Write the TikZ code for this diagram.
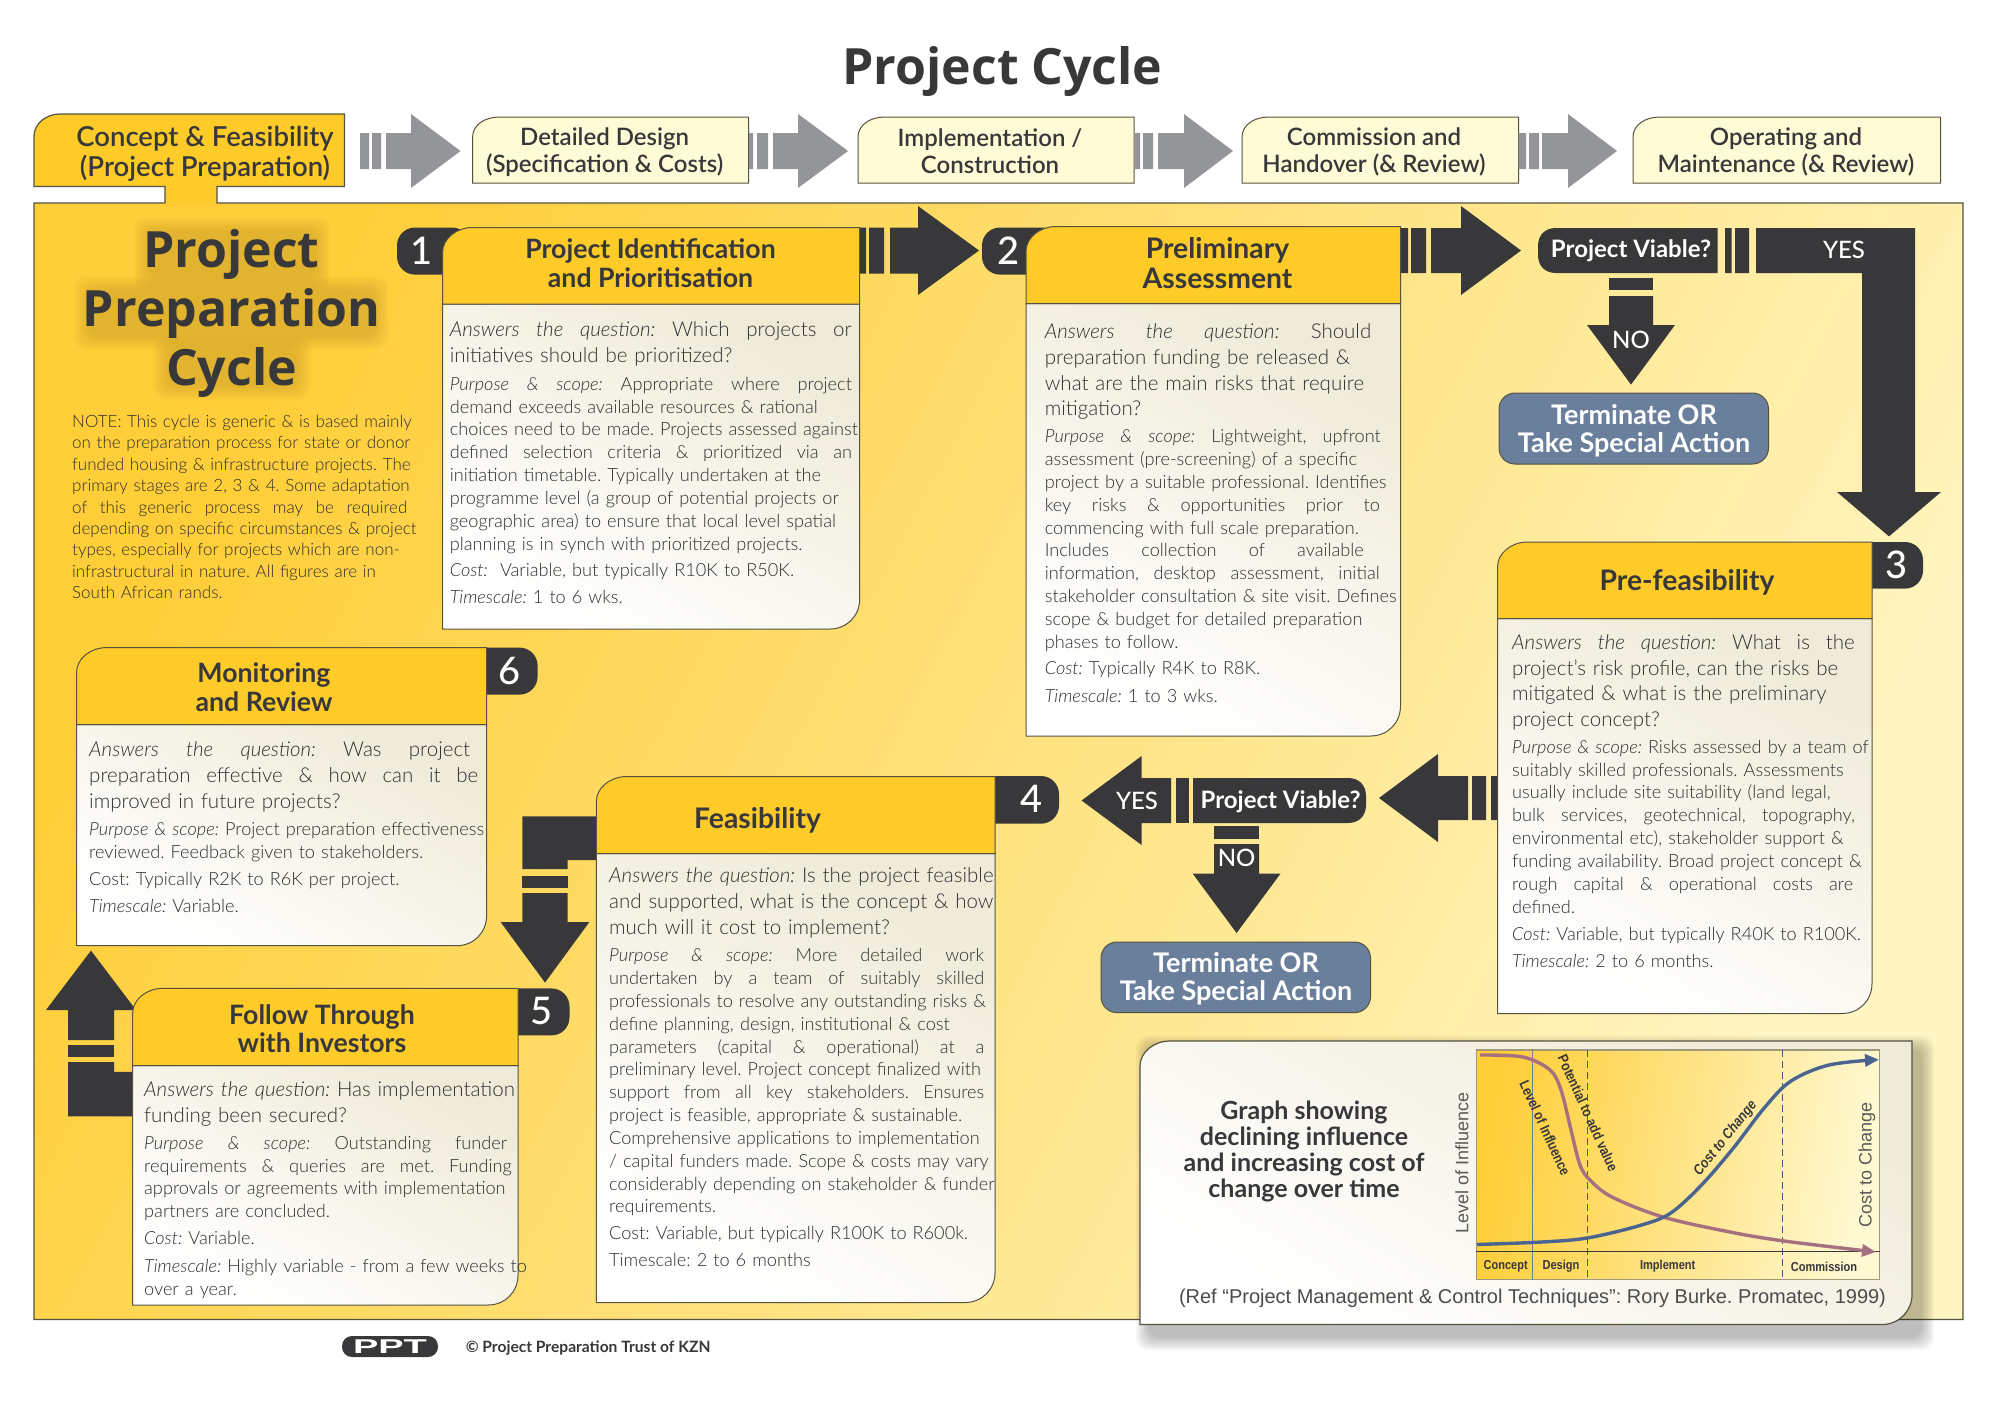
\documentclass[tikz,border=0pt]{standalone}
\usepackage{fontspec}
\usetikzlibrary{arrows.meta}
\setmainfont{Lato Light}[ItalicFont={Lato Light Italic},BoldFont={Lato Bold}]
\newfontfamily\medfont{Lato Medium}
\newfontfamily\semif{Lato Semibold}
\newfontfamily\boldf{Lato Bold}
\newfontfamily\titlef{Open Sans Bold}
\newfontfamily\arialf{Liberation Sans}
\newfontfamily\arialb{Liberation Sans Bold}[FakeStretch=0.85]
\newfontfamily\arialbi{Liberation Sans Bold Italic}[FakeStretch=0.85]
\newfontfamily\pptf{Liberation Sans Bold}[FakeStretch=1.9]
\definecolor{darkc}{HTML}{38383A}
\definecolor{grayc}{HTML}{939598}
\definecolor{headc}{HTML}{FFCB29}
\definecolor{creamc}{HTML}{FFFBD6}
\definecolor{slatec}{HTML}{6A7F9C}
\definecolor{edgec}{HTML}{55533F}
\definecolor{txt}{HTML}{2E2E2E}
\definecolor{panA}{HTML}{FFCE38}
\definecolor{panB}{HTML}{FFDF6C}
\definecolor{panC}{HTML}{FFF6C4}
\definecolor{bodytop}{HTML}{EFEBD8}
\definecolor{chartB}{HTML}{FFF9D2}
\definecolor{chartedge}{HTML}{A09A7A}
\definecolor{roseC}{HTML}{A5707F}
\definecolor{blueC}{HTML}{4A6490}
\definecolor{dashC}{HTML}{3F5A85}
\definecolor{glowcol}{HTML}{6B5410}
\hbadness=10000 \hfuzz=200pt
\frenchspacing
\newcommand\mystr{\vrule height .7\baselineskip depth .3\baselineskip width 0pt\relax}
\newcommand\lft[1]{\hbox{\mystr #1}\par}
\newcommand\jst[2]{\hbox to #1pt{\spaceskip=\fontdimen2\font plus 1fil\relax\xspaceskip=\spaceskip\mystr #2}\par}
\newcommand\ital[1]{\textit{#1}}
% horizontal / vertical block arrows
\newcommand\rarrow[7]{\fill[#1] (#2,{#5-#6}) -- (#3,{#5-#6}) -- (#3,{#5-#7}) -- (#4,#5) -- (#3,{#5+#7}) -- (#3,{#5+#6}) -- (#2,{#5+#6}) -- cycle;}
\newcommand\varrow[7]{\fill[#1] ({#5-#6},#2) -- ({#5-#6},#3) -- ({#5-#7},#3) -- (#5,#4) -- ({#5+#7},#3) -- ({#5+#6},#3) -- ({#5+#6},#2) -- cycle;}
% card: x1 y1 x2 yheader y2
\newcommand\cardx[5]{%
 \path[cardbody] (#1,#4) -- (#3,#4) -- (#3,{#5-30}) .. controls (#3,{#5-13}) and ({#3-13},#5) .. ({#3-30},#5) -- (#1,#5) -- cycle;
 \path[cardhead] (#1,#4) -- (#1,{#2+25}) .. controls (#1,{#2+11}) and ({#1+14},#2) .. ({#1+30},#2) -- (#3,#2) -- (#3,#4) -- cycle;}
% small top box: x1 x2
\newcommand\topbox[2]{\path[topstage] (#1,183) -- (#1,137) .. controls (#1,125) and ({#1+12},117) .. ({#1+27},117) -- (#2,117) -- (#2,183) -- cycle;}
\tikzset{
 cardbody/.style={draw=edgec,line width=1pt,top color=bodytop,bottom color=white,shading angle=-30},
 cardhead/.style={draw=edgec,line width=1pt,fill=headc},
 topstage/.style={draw=edgec,line width=1pt,fill=creamc},
 ans/.style={anchor=north west,inner sep=0pt,yshift=-2pt,text width=500pt,text=txt,font=\fontsize{20.5}{25.7}\selectfont},
 purp/.style={anchor=north west,inner sep=0pt,yshift=-1pt,text width=500pt,text=txt,font=\fontsize{18.15}{22.85}\selectfont},
 notep/.style={anchor=north west,inner sep=0pt,yshift=-1pt,text width=500pt,text=txt,font=\fontsize{17}{21.4}\selectfont},
 cardtitle/.style={inner sep=0pt,align=center,text=darkc,font=\boldf\fontsize{26.7}{28.6}\selectfont},
 cardtitleb/.style={cardtitle,font=\boldf\fontsize{28.3}{30}\selectfont},
 stagetxt/.style={inner sep=0pt,align=center,text=darkc,font=\semif\fontsize{24}{27}\selectfont},
 badgetxt/.style={inner sep=0pt,text=white,font=\medfont\fontsize{38}{40}\selectfont},
 whitebold/.style={inner sep=0pt,text=white,font=\boldf\fontsize{24}{26}\selectfont},
 yesno/.style={inner sep=0pt,text=white,font=\medfont\fontsize{24}{26}\selectfont},
 termbox/.style={draw=edgec,line width=1pt,fill=slatec,rounded corners=16pt},
 termtxt/.style={inner sep=0pt,align=center,text=white,font=\boldf\fontsize{27}{28.3}\selectfont},
 bigtitle/.style={inner sep=0pt,text=darkc,font=\titlef\fontsize{50}{54}\selectfont},
 glowc/.style={fill=glowcol,opacity=0.018},
 chartlbl/.style={inner sep=0pt,text=darkc,font=\arialb\fontsize{13}{14}\selectfont},
 chartrot/.style={inner sep=0pt,text=darkc,font=\arialb\fontsize{14.3}{15}\selectfont},
 chartax/.style={inner sep=0pt,text=black!65,font=\arialf\fontsize{18}{20}\selectfont},
}
\begin{document}
\begin{tikzpicture}[x=1pt,y=-1pt]
\useasboundingbox (0,0) rectangle (2000,1414);
\fill[white] (0,0) rectangle (2000,1414);
% page title
\node[bigtitle] (pagetitle) at (1002.5,72) {Project Cycle};
% main panel
\shade[top color=panA,middle color=panB,bottom color=panC,shading angle=62] (34,203) rectangle (1963,1319.5);
\fill[headc] (165,180) rectangle (217,204);
\fill[headc] (34,186.5) -- (34,136) .. controls (34,124) and (46,114) .. (60,114) -- (344.5,114) -- (344.5,186.5) -- cycle;
\draw[edgec,line width=1.2pt] (165,186.5) -- (34,186.5) -- (34,136) .. controls (34,124) and (46,114) .. (60,114) -- (344.5,114) -- (344.5,186.5) -- (217,186.5) -- (217,203) -- (1963,203) -- (1963,1319.5) -- (34,1319.5) -- (34,203) -- (165,203) -- cycle;
% top stages
\topbox{472.6}{748.7}
\topbox{858}{1134}
\topbox{1242}{1518.5}
\topbox{1633}{1940.7}
\node[stagetxt,font=\semif\fontsize{27.5}{30}\selectfont] (s1) at (205,154) {Concept \& Feasibility\\(Project Preparation)};
\node[stagetxt] (s2) at (604.6,152) {Detailed Design\\(Specification \& Costs)};
\node[stagetxt] (s3) at (990,151.5) {Implementation /\\Construction};
\node[stagetxt] (s4) at (1374,152) {Commission and\\Handover (\& Review)};
\node[stagetxt] (s5) at (1786,152) {Operating and\\Maintenance (\& Review)};
% grey arrows
\fill[grayc] (360,133) rectangle (369,169) (372,133) rectangle (381,169);
\rarrow{grayc}{386}{411}{460.5}{151}{18}{37}
\fill[grayc] (749,133) rectangle (753,169) (757,133) rectangle (768,169);
\rarrow{grayc}{773}{798}{848}{151}{18}{37}
\fill[grayc] (1134,133) rectangle (1140,169) (1143,133) rectangle (1153,169);
\rarrow{grayc}{1158}{1184}{1233}{151}{18}{37}
\fill[grayc] (1518.5,133) rectangle (1526,169) (1529,133) rectangle (1539,169);
\rarrow{grayc}{1542}{1568}{1617}{151}{18}{37}
% big left title
\foreach \d in {1,...,10}{
 \fill[glowc,rounded corners=12pt] ({150-\d*1.6},{233-\d*1.6}) rectangle ({314+\d*1.6},{274+\d*1.6});
 \fill[glowc,rounded corners=12pt] ({90-\d*1.6},{292-\d*1.6}) rectangle ({373+\d*1.6},{334+\d*1.6});
 \fill[glowc,rounded corners=12pt] ({169-\d*1.6},{351-\d*1.6}) rectangle ({295+\d*1.6},{384+\d*1.6});
}
\node[bigtitle] (t1) at (231.5,255) {Project};
\node[bigtitle] (t2) at (231.5,314) {Preparation};
\node[bigtitle] (t3) at (231.5,373) {Cycle};
\node[notep] (note) at (72,411.3) {%
\lft{NOTE: This cycle is generic \& is based mainly}
\lft{on the preparation process for state or donor}
\lft{funded housing \& infrastructure projects. The}
\lft{primary stages are 2, 3 \& 4. Some adaptation}
\jst{335}{of this generic process may be required}
\lft{depending on specific circumstances \& project}
\lft{types, especially for projects which are non-}
\lft{infrastructural in nature. All figures are in}
\lft{South African rands.}};
% badges
\fill[darkc,rounded corners=18pt] (397,227.5) rectangle (470,274.6);
\fill[darkc,rounded corners=18pt] (982,227.5) rectangle (1060,274.6);
\fill[darkc,rounded corners=18pt] (1840,542) rectangle (1923,588.6);
\fill[darkc,rounded corners=18pt] (960,776) rectangle (1059,823.7);
\fill[darkc,rounded corners=18pt] (480,988.4) rectangle (569.5,1035.4);
\fill[darkc,rounded corners=18pt] (450,647.6) rectangle (537.6,694.6);
% dark arrows
\fill[darkc] (860,227.5) rectangle (866,273.5) (869,227.5) rectangle (884,273.5);
\rarrow{darkc}{890}{918}{979}{250.5}{23}{44.5}
\fill[darkc] (1400.5,228) rectangle (1408,273) (1411,228) rectangle (1426,273);
\rarrow{darkc}{1431}{1461}{1521}{250.5}{22.5}{44.5}
% viable 1
\fill[darkc] (1717.5,228) -- (1556,228) .. controls (1545,228) and (1538,235) .. (1538,246) -- (1538,255) .. controls (1538,266) and (1545,273) .. (1556,273) -- (1717.5,273) -- cycle;
\fill[darkc] (1725,228) rectangle (1731.5,273) (1735,228) rectangle (1749,273);
\fill[darkc] (1756,228) -- (1915,228) -- (1915,492) -- (1941,492) -- (1889,536.4) -- (1837,492) -- (1862,492) -- (1862,273) -- (1756,273) -- cycle;
\node[whitebold] (pv1) at (1631,251) {Project Viable?};
\node[yesno] (yes1) at (1844,250) {YES};
\fill[darkc] (1609,278) rectangle (1653,290);
\varrow{darkc}{296}{325}{384.6}{1631}{22}{44}
\node[yesno] (no1) at (1631,340) {NO};
\path[termbox] (1499,393) rectangle (1768.5,464);
\node[termtxt] (term1) at (1634,430.5) {Terminate OR\\Take Special Action};
% viable 2
\rarrow{darkc}{1468}{1438}{1379}{798}{22}{44}
\fill[darkc] (1472,776) rectangle (1486,820) (1491,776) rectangle (1497.5,820);
\fill[darkc] (1193,778) -- (1348,778) .. controls (1359,778) and (1366,785) .. (1366,796) -- (1366,805) .. controls (1366,816) and (1359,823) .. (1348,823) -- (1193,823) -- cycle;
\node[whitebold] (pv2) at (1280.6,802) {Project Viable?};
\fill[darkc] (1176,778) rectangle (1189,823);
\rarrow{darkc}{1171}{1141.6}{1081.6}{800.5}{22.5}{44.5}
\node[yesno] (yes2) at (1137,801) {YES};
\fill[darkc] (1214,826) rectangle (1259,839);
\varrow{darkc}{844}{873.5}{933}{1236.6}{22.5}{44}
\node[yesno] (no2) at (1236.6,858) {NO};
\path[termbox] (1101,942) rectangle (1370.5,1012.6);
\node[termtxt] (term2) at (1236,979) {Terminate OR\\Take Special Action};
% arrow 4 to 5
\fill[darkc] (596,816.3) -- (522.3,816.3) -- (522.3,869) -- (567.6,869) -- (567.6,860) -- (596,860) -- cycle;
\fill[darkc] (522.3,875.5) rectangle (567.6,887.6);
\varrow{darkc}{893}{922}{982.6}{545}{22.7}{44.4}
% arrow 5 to 6
\fill[darkc] (68.2,1062) -- (114,1062) -- (114,1071.8) -- (140,1071.8) -- (140,1116.4) -- (68.2,1116.4) -- cycle;
\fill[darkc] (68.2,1045) rectangle (114,1057);
\varrow{darkc}{1040}{1010}{950.6}{91}{23}{45}
% cards
\cardx{442.6}{227.5}{859.7}{304}{629}
\cardx{1026}{226.5}{1400.5}{303.6}{736}
\cardx{1497.5}{542}{1872}{618.6}{1013.5}
\cardx{596.3}{776.6}{995}{853.6}{1302.5}
\cardx{132.6}{988.4}{518}{1065.5}{1305}
\cardx{76.5}{647.6}{486.6}{724.7}{945.7}
\node[badgetxt] (n1) at (422,251) {1};
\node[badgetxt] (n2) at (1009,251) {2};
\node[badgetxt] (n3) at (1896,565) {3};
\node[badgetxt] (n4) at (1032,799) {4};
\node[badgetxt] (n5) at (541.5,1011) {5};
\node[badgetxt] (n6) at (509.6,671) {6};
\node[cardtitle] (h1) at (650.5,263) {Project Identification\\and Prioritisation};
\node[cardtitleb] (h2) at (1217.5,263.5) {Preliminary\\Assessment};
\node[cardtitleb] (h3) at (1687,582) {Pre-feasibility};
\node[cardtitleb] (h4) at (757.6,820.5) {Feasibility};
\node[cardtitle] (h5) at (322,1028.5) {Follow Through\\with Investors};
\node[cardtitle] (h6) at (264,687) {Monitoring\\and Review};
% card 1 text
\node[ans] (c1a) at (449.6,316.8) {%
\jst{402}{\ital{Answers the question:} Which projects or}
\lft{initiatives should be prioritized?}};
\node[purp] (c1p) at (449.6,373) {%
\jst{402}{\ital{Purpose \& scope:} Appropriate where project}
\lft{demand exceeds available resources \& rational}
\jst{408}{choices need to be made. Projects assessed against}
\jst{402}{defined selection criteria \& prioritized via an}
\lft{initiation timetable. Typically undertaken at the}
\lft{programme level (a group of potential projects or}
\lft{geographic area) to ensure that local level spatial}
\lft{planning is in synch with prioritized projects.}};
\node[purp] (c1c) at (449.6,559.4) {\lft{\ital{Cost:}\ \ Variable, but typically R10K to R50K.}};
\node[purp] (c1t) at (449.6,586) {\lft{\ital{Timescale:} 1 to 6 wks.}};
% card 2 text
\node[ans] (c2a) at (1044.6,318.5) {%
\jst{326.5}{\ital{Answers the question:} Should}
\lft{preparation funding be released \&}
\lft{what are the main risks that require}
\lft{mitigation?}};
\node[purp] (c2p) at (1044.6,425.4) {%
\jst{336}{\ital{Purpose \& scope:} Lightweight, upfront}
\lft{assessment (pre-screening) of a specific}
\lft{project by a suitable professional. Identifies}
\jst{335}{key risks \& opportunities prior to}
\lft{commencing with full scale preparation.}
\jst{319}{Includes collection of available}
\jst{335}{information, desktop assessment, initial}
\lft{stakeholder consultation \& site visit. Defines}
\lft{scope \& budget for detailed preparation}
\lft{phases to follow.}};
\node[purp] (c2c) at (1044.6,657.4) {\lft{\ital{Cost:} Typically R4K to R8K.}};
\node[purp] (c2t) at (1044.6,685.4) {\lft{\ital{Timescale:} 1 to 3 wks.}};
% card 3 text
\node[ans] (c3a) at (1512,629.1) {%
\jst{342.6}{\ital{Answers the question:} What is the}
\lft{project's risk profile, can the risks be}
\lft{mitigated \& what is the preliminary}
\lft{project concept?}};
\node[purp] (c3p) at (1512,736) {%
\lft{\ital{Purpose \& scope:} Risks assessed by a team of}
\lft{suitably skilled professionals. Assessments}
\lft{usually include site suitability (land legal,}
\jst{342.6}{bulk services, geotechnical, topography,}
\lft{environmental etc), stakeholder support \&}
\lft{funding availability. Broad project concept \&}
\jst{341}{rough capital \& operational costs are}
\lft{defined.}};
\node[purp] (c3c) at (1512,923) {\lft{\ital{Cost:} Variable, but typically R40K to R100K.}};
\node[purp] (c3t) at (1512,950.6) {\lft{\ital{Timescale:} 2 to 6 months.}};
% card 4 text
\node[ans] (c4a) at (609,862.5) {%
\lft{\ital{Answers the question:} Is the project feasible}
\lft{and supported, what is the concept \& how}
\lft{much will it cost to implement?}};
\node[purp] (c4p) at (609,944.4) {%
\jst{375}{\ital{Purpose \& scope:} More detailed work}
\jst{375}{undertaken by a team of suitably skilled}
\lft{professionals to resolve any outstanding risks \&}
\lft{define planning, design, institutional \& cost}
\jst{375}{parameters (capital \& operational) at a}
\lft{preliminary level. Project concept finalized with}
\jst{375}{support from all key stakeholders. Ensures}
\lft{project is feasible, appropriate \& sustainable.}
\lft{Comprehensive applications to implementation}
\lft{/ capital funders made. Scope \& costs may vary}
\lft{considerably depending on stakeholder \& funder}
\lft{requirements.}};
\node[purp] (c4c) at (609,1222.2) {\lft{Cost: Variable, but typically R100K to R600k.}};
\node[purp] (c4t) at (609,1249.3) {\lft{Timescale: 2 to 6 months}};
% card 5 text
\node[ans] (c5a) at (144,1076.2) {%
\lft{\ital{Answers the question:} Has implementation}
\lft{funding been secured?}};
\node[purp] (c5p) at (144,1132) {%
\jst{363}{\ital{Purpose \& scope:} Outstanding funder}
\jst{367.5}{requirements \& queries are met. Funding}
\lft{approvals or agreements with implementation}
\lft{partners are concluded.}};
\node[purp] (c5c) at (144,1227.5) {\lft{\ital{Cost:} Variable.}};
\node[purp] (c5t) at (144,1255) {%
\lft{\ital{Timescale:} Highly variable - from a few weeks to}
\lft{over a year.}};
% card 6 text
\node[ans] (c6a) at (89,736.5) {%
\jst{381}{\ital{Answers the question:} Was project}
\jst{389}{preparation effective \& how can it be}
\lft{improved in future projects?}};
\node[purp] (c6p) at (89,818) {%
\lft{\ital{Purpose \& scope:} Project preparation effectiveness}
\lft{reviewed. Feedback given to stakeholders.}};
\node[purp] (c6c) at (89,868.3) {\lft{Cost: Typically R2K to R6K per project.}};
\node[purp] (c6t) at (89,895.5) {\lft{\ital{Timescale:} Variable.}};
% graph panel
\foreach \d in {1,...,7}{
 \fill[black,opacity=0.04,rounded corners=12pt] ({1150-\d*2},{1050-\d*2}) rectangle ({1920+\d*2},{1336+\d*2});
}
\path[draw=edgec,line width=1.2pt,top color=bodytop,bottom color=white,shading angle=-30] (1140,1066) .. controls (1140,1052) and (1154,1041) .. (1170,1041) -- (1912,1041) -- (1912,1294.5) .. controls (1912,1311) and (1899,1324.5) .. (1882,1324.5) -- (1140,1324.5) -- cycle;
\node[cardtitle,font=\boldf\fontsize{25}{26}\selectfont] (gt) at (1304,1151) {Graph showing\\declining influence\\and increasing cost of\\change over time};
\node[inner sep=0pt,text=black!70,font=\arialf\fontsize{20}{22}\selectfont] (gref) at (1532.5,1298) {(Ref “Project Management \& Control Techniques”: Rory Burke. Promatec, 1999)};
% chart
\shade[left color=panA,right color=chartB,shading angle=80] (1476.4,1050) rectangle (1879.5,1279.6);
\draw[chartedge,line width=1.4pt] (1476.4,1050) rectangle (1879.5,1279.6);
\draw[slatec,line width=1.2pt] (1532.5,1050) -- (1532.5,1279.6);
\draw[dashC,line width=1.3pt,dash pattern=on 7pt off 4pt] (1587.4,1050) -- (1587.4,1279.6);
\draw[dashC,line width=1.3pt,dash pattern=on 7pt off 4pt] (1782.5,1050) -- (1782.5,1279.6);
\draw[darkc,line width=1.8pt] (1476.4,1251.4) -- (1879.5,1251.4);
\draw[color=roseC,line width=3.4pt,-{Triangle[length=14pt,width=12pt]}] plot[smooth,tension=0.55] coordinates {(1480,1055) (1523,1057) (1550,1070) (1561,1090) (1571,1130) (1580,1165) (1590,1180) (1612,1197) (1663,1217) (1730,1232) (1784,1241) (1876,1252)};
\draw[color=blueC,line width=3.4pt,-{Triangle[length=14pt,width=12pt]}] plot[smooth,tension=0.55] coordinates {(1477,1244.5) (1542,1242) (1587,1238) (1638,1226) (1670,1213.5) (1701.5,1185) (1733.4,1148) (1765,1107) (1791,1081) (1829,1065) (1879,1059.6)};
\node[chartax,rotate=90] (lyl) at (1462,1163) {Level of Influence};
\node[chartax,rotate=90] (lyr) at (1867,1164.5) {Cost to Change};
\node[chartrot,rotate=-65.5] (cl1) at (1545,1128) {Level of Influence};
\node[chartrot,rotate=-65.5] (cl2) at (1588,1113) {Potential to add value};
\node[inner sep=0pt,text=darkc,font=\arialbi\fontsize{14.5}{15}\selectfont,rotate=51] (cl3) at (1725.6,1138.6) {Cost to Change};
\node[chartlbl] (b1) at (1505.7,1266.5) {Concept};
\node[chartlbl] (b2) at (1561,1266.5) {Design};
\node[chartlbl] (b3) at (1667.7,1266.5) {Implement};
\node[chartlbl] (b4) at (1824,1266.5) {Commission};
% footer
\fill[darkc,rounded corners=10pt] (342,1336) rectangle (438,1357);
\node[inner sep=0pt,text=white,font=\pptf\fontsize{20}{22}\selectfont] (ppt) at (390,1347) {PPT};
\node[anchor=west,inner sep=0pt,text=darkc,font=\boldf\fontsize{15.6}{17}\selectfont] (copy) at (465.6,1348.5) {© Project Preparation Trust of KZN};
\end{tikzpicture}
\end{document}
